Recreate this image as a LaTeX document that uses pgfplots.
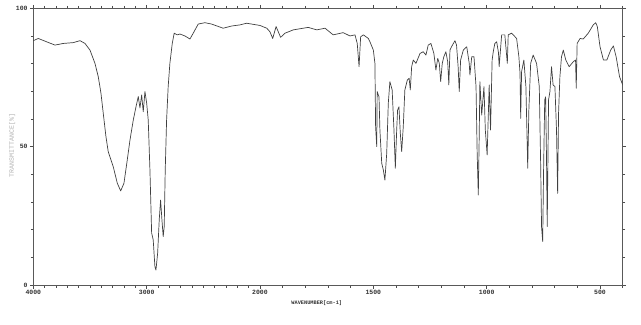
\documentclass[border=0pt]{standalone}
\usepackage{fontspec}
\setmainfont{Liberation Sans}
\setmonofont{Liberation Mono}
\usepackage{pgfplots}
\pgfplotsset{compat=1.18}
\begin{document}
\begin{tikzpicture}
\begin{axis}[
  scale only axis, width=589.4bp, height=276.7bp,
  x coord trafo/.code={\pgfmathparse{(#1>=2000)*(4000-#1)/2+(#1<2000)*(3000-#1)}},
  xmin=4000, xmax=400, ymin=0, ymax=100,
  xtick={4000,3000,2000,1500,1000,500},
  xticklabels={4000,3000,2000,1500,1000,500},
  minor xtick={3900,3800,3700,3600,3500,3400,3300,3200,3100,2900,2800,2700,2600,2500,2400,2300,2200,2100,1900,1800,1700,1600,1400,1300,1200,1100,900,800,700,600,400},
  ytick={0,50,100}, yticklabels={0,50,100},
  minor ytick={10,20,30,40,60,70,80,90},
  tick align=outside,
  major tick length=3.5bp, minor tick length=2.5bp,
  every tick/.style={gray!60!black, line width=0.6pt},
  axis line style={gray!70!black, line width=0.8pt},
  ticklabel style={font=\ttfamily\bfseries\fontsize{6.5}{7}\selectfont, text=black!80},
  xticklabel style={inner sep=1.5bp},
  yticklabel style={inner sep=2bp},
  xlabel={WAVENUMBER[cm-1]},
  xlabel style={font=\ttfamily\bfseries\fontsize{5.3}{6}\selectfont, text=black!80, at={(axis description cs:0.481,-0.066)}, anchor=center},
  ylabel={TRANSMITTANCE[\%]},
  ylabel style={font=\ttfamily\fontsize{6.6}{7}\selectfont, text=gray!60, at={(axis description cs:-0.036,0.504)}, anchor=center},
  clip=true,
]
\addplot[line width=0.7pt, color=black!75, line join=round] table {
4000 88.3
3956 89.1
3809 86.7
3735 87.3
3647 87.6
3588 88.3
3544 87.3
3500 84.9
3456 80.1
3427 75.3
3403 69.3
3383 62.1
3359 53.6
3339 48.2
3295 42.8
3259 36.8
3229 34.0
3200 36.8
3171 45.2
3147 52.4
3118 59.6
3094 64.4
3074 68.1
3059 64.0
3044 68.7
3030 62.6
3015 69.9
3000 65.8
2986 59.6
2971 41.6
2956 18.8
2942 16.3
2927 6.6
2918 5.4
2903 11.5
2889 23.5
2877 30.7
2865 23.5
2854 17.5
2845 21.1
2836 41.6
2824 59.6
2810 71.7
2795 80.1
2774 87.3
2757 91.0
2730 90.4
2706 90.7
2662 90.0
2618 88.9
2589 91.0
2545 94.3
2486 94.8
2427 94.3
2325 92.8
2250 93.6
2177 94.0
2118 94.6
2045 94.1
2000 93.8
1970 92.8
1956 91.5
1944 89.1
1929 93.4
1909 89.5
1890 91.0
1853 92.2
1787 93.1
1750 92.2
1713 92.8
1677 90.4
1633 91.2
1603 90.0
1581 90.4
1571 87.3
1563 78.9
1556 89.7
1544 90.4
1522 89.1
1515 87.9
1500 84.9
1493 80.1
1490 57.2
1485 50.0
1483 69.9
1475 68.0
1471 56.0
1463 44.0
1456 41.6
1449 37.9
1441 47.6
1434 65.7
1427 73.5
1417 70.5
1409 56.0
1403 42.2
1397 56.0
1393 63.2
1387 64.4
1381 54.8
1375 48.2
1368 57.2
1361 70.5
1350 74.1
1342 74.7
1337 70.5
1331 78.9
1324 81.3
1312 80.1
1294 83.7
1280 84.3
1268 83.1
1258 86.7
1246 87.3
1233 83.7
1224 77.7
1216 81.9
1209 80.1
1203 73.5
1196 80.1
1189 82.5
1180 84.3
1172 80.7
1167 72.3
1162 84.9
1155 86.1
1140 88.3
1133 86.7
1126 78.9
1121 69.9
1115 81.3
1103 84.9
1088 86.1
1077 80.1
1074 75.9
1066 82.5
1056 82.5
1047 71.7
1042 47.6
1037 32.5
1033 53.6
1030 73.5
1022 61.4
1012 71.7
1006 56.0
998 47.0
989 72.3
983 56.0
976 81.3
971 84.3
964 87.3
956 87.9
948 84.0
945 78.9
934 90.4
920 90.4
909 80.1
905 90.4
890 91.0
868 89.1
858 82.5
853 76.6
850 60.2
846 77.1
836 81.3
827 71.7
821 50.0
819 42.2
814 63.2
806 80.1
795 83.1
780 80.1
768 71.7
762 44.0
758 21.1
753 15.7
749 41.6
744 66.9
740 68.0
736 45.2
733 21.1
727 66.9
721 69.9
714 78.9
707 72.3
699 71.7
692 56.0
687 33.1
683 62.0
677 75.3
670 82.5
662 84.9
651 81.3
636 78.9
618 80.7
608 81.3
605 71.1
601 87.3
588 89.1
574 88.9
552 91.0
530 94.0
519 94.8
512 93.4
500 86.1
485 81.3
470 81.3
453 84.9
441 86.4
429 82.5
414 75.3
400 72.3
};
\coordinate (sw) at (rel axis cs:0,0);
\coordinate (ne) at (rel axis cs:1,1);
\end{axis}
\pgfresetboundingbox
\path ([shift={(-33.3bp,-40bp)}]sw) rectangle ([shift={(18.3bp,8.3bp)}]ne);
\end{tikzpicture}
\end{document}
